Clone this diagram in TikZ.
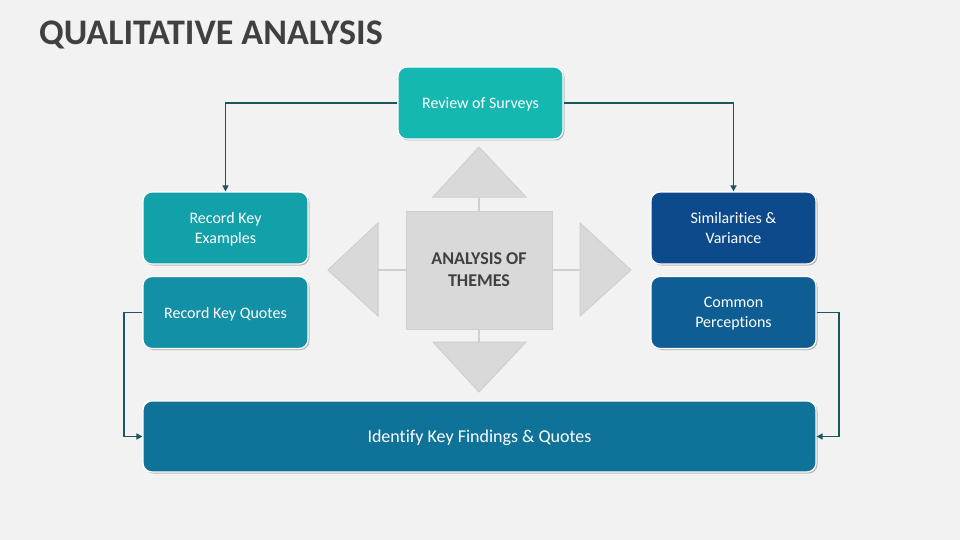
\documentclass[tikz,border=0pt]{standalone}
\usepackage{fontspec}
\setmainfont[Ligatures=NoCommon]{Carlito}
\usetikzlibrary{arrows.meta,shadows}
\definecolor{bg}{HTML}{F2F2F2}
\definecolor{titlec}{HTML}{404040}
\definecolor{cRev}{HTML}{14B8B0}
\definecolor{cEx}{HTML}{12A1A9}
\definecolor{cQu}{HTML}{138FA6}
\definecolor{cSim}{HTML}{0D4A8C}
\definecolor{cCom}{HTML}{0F5E93}
\definecolor{cId}{HTML}{0F7399}
\definecolor{conn}{HTML}{18585A}
\definecolor{shapeg}{HTML}{D9D9D9}
\definecolor{shapeb}{HTML}{CFCFCF}
\tikzset{
  box/.style={draw=white, line width=1.2pt, rounded corners=9pt, text=white,
    font=\fontsize{16}{20}\selectfont, align=center, text depth=0pt,
    minimum width=165pt, minimum height=72pt, inner sep=2pt,
    drop shadow={shadow xshift=1.5pt, shadow yshift=-1.5pt, opacity=0.35, fill=black!70}},
  conn/.style={draw=conn, line width=1.9pt},
  arr/.style={conn, -{Triangle[length=6pt,width=6pt]}},
  grayshape/.style={fill=shapeg, draw=shapeb, line width=1pt},
  stem/.style={draw=shapeb, line width=2.5pt},
}
\begin{document}
\begin{tikzpicture}[x=1pt,y=-1pt]
\fill[bg] (0,0) rectangle (960,540);
\useasboundingbox (0,0) rectangle (960,540);

\node[anchor=base west, text=titlec, font=\fontsize{36}{40}\selectfont\bfseries, inner sep=0pt] (title) at (39,45) {QUALITATIVE ANALYSIS};

% central square and stems
\node[grayshape, minimum width=146pt, minimum height=118pt, inner sep=0pt, text=titlec,
  font=\fontsize{18}{22}\selectfont\bfseries, align=center] (ctr) at (479,270) {ANALYSIS OF\\THEMES};

\coordinate (upb) at (479,197);
\coordinate (dnb) at (479,342);
\coordinate (lfb) at (378,270);
\coordinate (rtb) at (580,270);
\draw[stem] (ctr.north) -- (upb);
\draw[stem] (ctr.south) -- (dnb);
\draw[stem] (ctr.west) -- (lfb);
\draw[stem] (ctr.east) -- (rtb);

\draw[grayshape] (433,197) -- (479,147) -- (526,197) -- cycle;
\draw[grayshape] (433,342) -- (479,392) -- (526,342) -- cycle;
\draw[grayshape] (378,223) -- (328,270) -- (378,316) -- cycle;
\draw[grayshape] (580,223) -- (631,270) -- (580,316) -- cycle;

% boxes
\node[box, fill=cRev] (rev) at (480.5,103) {Review of Surveys};
\node[box, fill=cEx] (ex) at (225.5,228) {Record Key\\Examples};
\node[box, fill=cQu] (qu) at (225.5,312.5) {Record Key Quotes};
\node[box, fill=cSim] (sim) at (733.5,228) {Similarities \&\\Variance};
\node[box, fill=cCom] (com) at (733.5,312.5) {Common\\Perceptions};
\node[box, fill=cId, minimum width=673pt, minimum height=71pt,
  font=\fontsize{18}{22}\selectfont] (idf) at (479.5,436.5) {Identify Key Findings \& Quotes};

% connectors
\draw[arr] (rev.west) -| (ex.north);
\draw[arr] (rev.east) -| (sim.north);
\draw[arr] (qu.west) -- ++(-18,0) |- (idf.west);
\draw[arr] (com.east) -- ++(22,0) |- (idf.east);
\end{tikzpicture}
\end{document}
